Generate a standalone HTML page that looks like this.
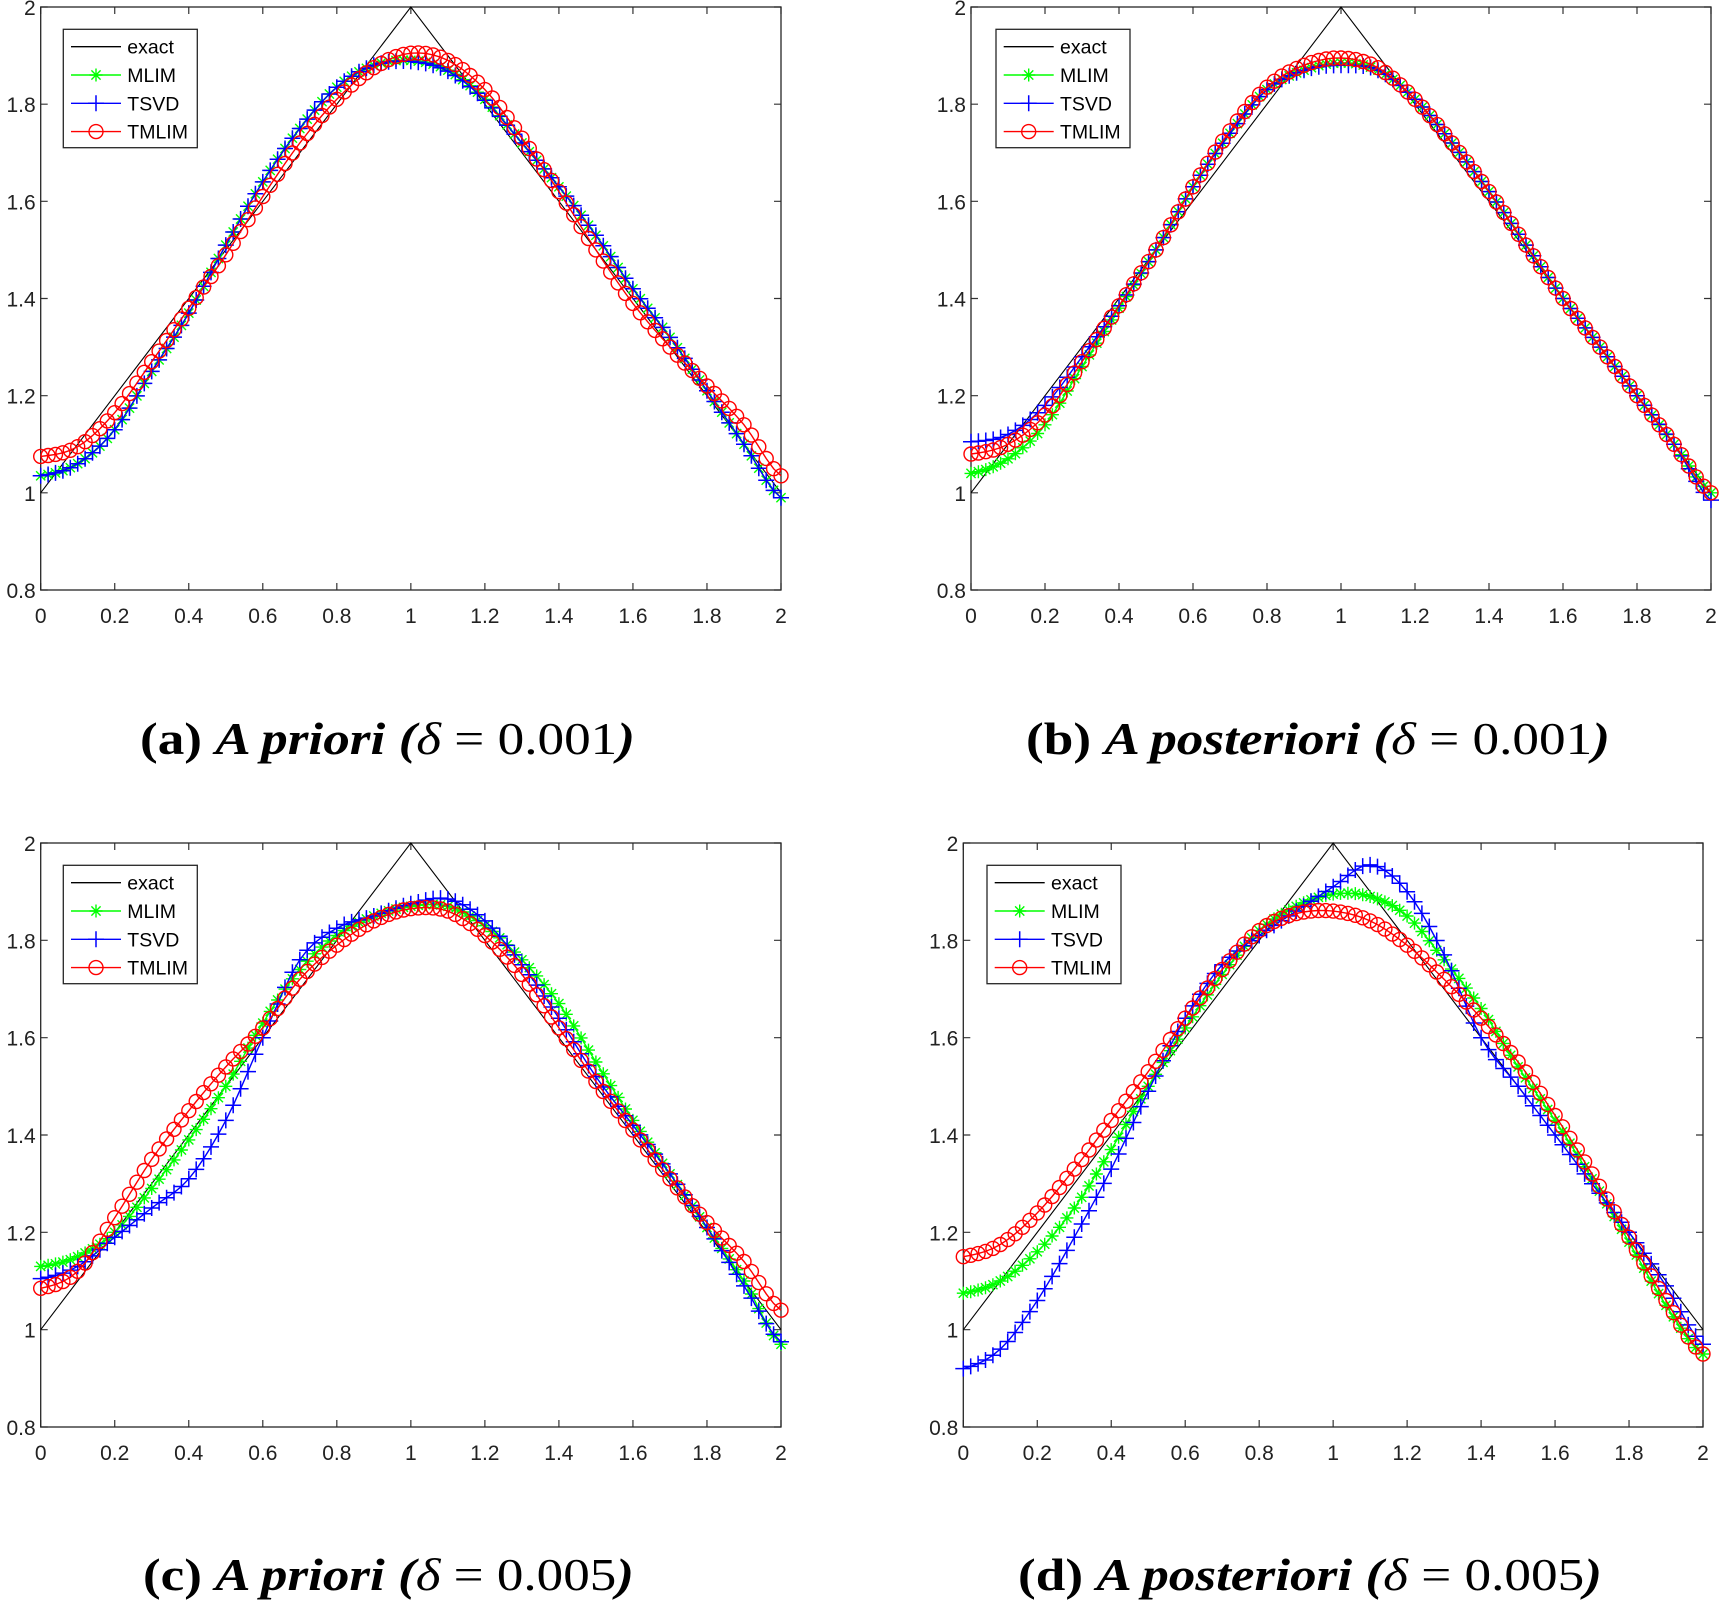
<!DOCTYPE html>
<html><head><meta charset="utf-8"><style>
html,body{margin:0;padding:0;background:#fff;}
svg{display:block;}
</style></head><body>
<svg id="s" xmlns="http://www.w3.org/2000/svg" width="1720" height="1600" viewBox="0 0 1720 1600"></svg>
<script>
const svg=document.getElementById('s');
let out='';
function cr(pts,x){
  const h=0.1;let i=Math.min(Math.floor(x/h),pts.length-2);const t=(x-i*h)/h;
  const p0=pts[Math.max(i-1,0)],p1=pts[i],p2=pts[i+1],p3=pts[Math.min(i+2,pts.length-1)];
  return 0.5*((2*p1)+(-p0+p2)*t+(2*p0-5*p1+4*p2-p3)*t*t+(-p0+3*p1-3*p2+p3)*t*t*t);
}
const P=[
 {x0:40.7,x1:781,y0:7,y1:590,leg:[63.3,29.3],cap:["(a)","A priori","0.001",140,635,754],
  m:[1.035,1.06,1.13,1.25,1.37,1.51,1.64,1.75,1.835,1.88,1.89,1.87,1.81,1.72,1.63,1.53,1.42,1.32,1.21,1.10,0.99],
  t:[1.035,1.06,1.13,1.25,1.37,1.51,1.64,1.75,1.835,1.88,1.888,1.868,1.808,1.72,1.63,1.53,1.42,1.32,1.21,1.10,0.99],
  r:[1.075,1.095,1.165,1.27,1.38,1.49,1.61,1.72,1.81,1.875,1.905,1.89,1.83,1.73,1.62,1.50,1.39,1.30,1.22,1.14,1.035]},
 {x0:971,x1:1711,y0:7,y1:590,leg:[996,29.3],cap:["(b)","A posteriori","0.001",1026,1610,754],
  m:[1.04,1.07,1.14,1.26,1.38,1.50,1.63,1.74,1.83,1.87,1.885,1.87,1.81,1.72,1.62,1.51,1.40,1.30,1.20,1.10,1.0],
  t:[1.105,1.12,1.18,1.28,1.385,1.50,1.63,1.74,1.83,1.87,1.88,1.87,1.81,1.72,1.62,1.51,1.40,1.30,1.20,1.10,0.985],
  r:[1.08,1.10,1.16,1.27,1.385,1.50,1.63,1.745,1.835,1.88,1.895,1.875,1.81,1.72,1.62,1.51,1.40,1.30,1.20,1.10,1.0]},
 {x0:40.7,x1:781,y0:843,y1:1427,leg:[63.3,865.3],cap:["(c)","A priori","0.005",143,634,1590],
  m:[1.13,1.15,1.20,1.29,1.39,1.50,1.63,1.74,1.81,1.85,1.87,1.87,1.83,1.76,1.67,1.55,1.43,1.32,1.21,1.10,0.97],
  t:[1.105,1.13,1.19,1.25,1.31,1.43,1.60,1.76,1.825,1.85,1.875,1.885,1.84,1.75,1.64,1.52,1.42,1.32,1.21,1.09,0.975],
  r:[1.085,1.12,1.23,1.35,1.45,1.54,1.62,1.72,1.79,1.84,1.865,1.86,1.81,1.73,1.62,1.51,1.41,1.31,1.22,1.14,1.04]},
 {x0:963.3,x1:1703,y0:843,y1:1427,leg:[987,865.3],cap:["(d)","A posteriori","0.005",1018,1602,1590],
  m:[1.075,1.10,1.16,1.25,1.37,1.50,1.62,1.73,1.82,1.87,1.895,1.89,1.85,1.76,1.66,1.54,1.43,1.31,1.18,1.05,0.95],
  t:[0.92,0.96,1.06,1.19,1.33,1.49,1.64,1.75,1.81,1.86,1.91,1.955,1.90,1.77,1.60,1.50,1.40,1.30,1.20,1.09,0.97],
  r:[1.15,1.175,1.24,1.33,1.43,1.53,1.64,1.74,1.82,1.855,1.86,1.84,1.79,1.72,1.64,1.55,1.44,1.32,1.19,1.06,0.95]}
];
const F='font-family="Liberation Sans, sans-serif"';
function star(x,y,c){const s=6.5,d=4.6;return `<path d="M${x-s} ${y}H${x+s}M${x} ${y-s}V${y+s}M${x-d} ${y-d}L${x+d} ${y+d}M${x-d} ${y+d}L${x+d} ${y-d}" stroke="${c}" stroke-width="1.4" fill="none"/>`;}
function plus(x,y,c){const s=8;return `<path d="M${x-s} ${y}H${x+s}M${x} ${y-s}V${y+s}" stroke="${c}" stroke-width="1.5" fill="none"/>`;}
function circ(x,y,c){return `<circle cx="${x}" cy="${y}" r="7" stroke="${c}" stroke-width="1.4" fill="none"/>`;}
P.forEach(p=>{
  const X=v=>p.x0+(p.x1-p.x0)*v/2, Y=v=>p.y1-(p.y1-p.y0)*(v-0.8)/1.2;
  for(let i=0;i<=10;i++){const v=i*0.2,x=X(v);
    out+=`<path d="M${x} ${p.y1}v-7M${x} ${p.y0}v7" stroke="#333" stroke-width="1.2"/>`;
    let lab=(Math.round(v*10)/10).toString();
    out+=`<text x="${x}" y="${p.y1+33}" ${F} font-size="21" text-anchor="middle" fill="#222">${lab}</text>`;}
  for(let i=0;i<=6;i++){const v=0.8+i*0.2,y=Y(v);
    out+=`<path d="M${p.x0} ${y}h7M${p.x1} ${y}h-7" stroke="#333" stroke-width="1.2"/>`;
    let lab=(Math.round(v*10)/10).toString();
    out+=`<text x="${p.x0-5}" y="${y+8}" ${F} font-size="21" text-anchor="end" fill="#222">${lab}</text>`;}
  out+=`<rect x="${p.x0}" y="${p.y0}" width="${p.x1-p.x0}" height="${p.y1-p.y0}" fill="none" stroke="#262626" stroke-width="1.3"/>`;
  out+=`<polyline points="${X(0)},${Y(1)} ${X(1)},${Y(2)} ${X(2)},${Y(1)}" fill="none" stroke="#000" stroke-width="1.1"/>`;
  const ser=[[p.m,'#00ff00',star],[p.t,'#0000ff',plus],[p.r,'#ff0000',circ]];
  ser.forEach(([d,c,mk])=>{let pts=[],mks='';
    for(let k=0;k<=100;k++){const xv=k*0.02,yv=cr(d,xv);const x=X(xv),y=Y(yv);pts.push(x.toFixed(1)+','+y.toFixed(1));mks+=mk(x.toFixed(1)*1,y.toFixed(1)*1,c);}
    out+=`<polyline points="${pts.join(' ')}" fill="none" stroke="${c}" stroke-width="1.4"/>`+mks;});
  const lx=p.leg[0],ly=p.leg[1];
  out+=`<rect x="${lx}" y="${ly}" width="134" height="118.4" fill="#fff" stroke="#262626" stroke-width="1.3"/>`;
  const names=['exact','MLIM','TSVD','TMLIM'],cols=['#000','#00ff00','#0000ff','#ff0000'],mk=[null,star,plus,circ];
  names.forEach((n,i)=>{const y=ly+17.4+i*28.3;
    out+=`<path d="M${lx+7.7} ${y}H${lx+57.7}" stroke="${cols[i]}" stroke-width="1.4"/>`;
    if(mk[i])out+=mk[i](lx+32.7,y,cols[i]);
    out+=`<text x="${lx+64}" y="${y+7}" ${F} font-size="19.5" fill="#000">${n}</text>`;});
  const [lab,it,val,cx0,cx1,bl]=p.cap;
  out+=`<text x="${cx0}" y="${bl}" font-family="Liberation Serif, DejaVu Serif, serif" font-size="46" fill="#000" textLength="${cx1-cx0}" lengthAdjust="spacingAndGlyphs"><tspan font-weight="bold">${lab}</tspan>  <tspan font-weight="bold" font-style="italic">${it} (</tspan><tspan font-style="italic">δ</tspan> = ${val}<tspan font-weight="bold" font-style="italic">)</tspan></text>`;
});
svg.innerHTML=out;
</script>
</body></html>
